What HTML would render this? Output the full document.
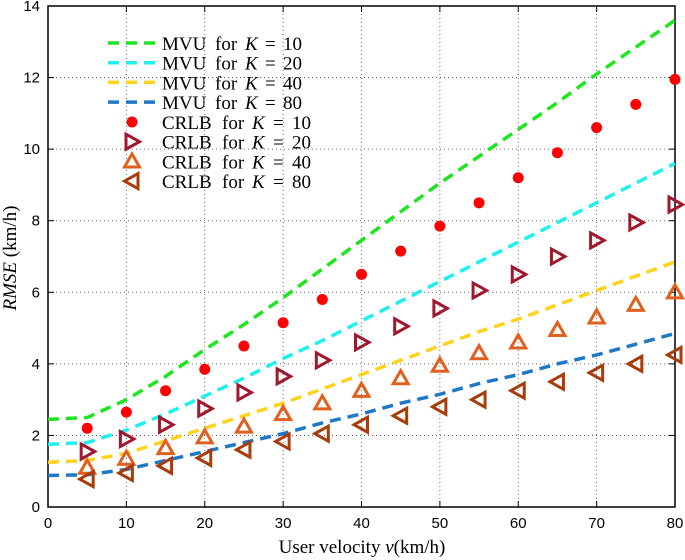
<!DOCTYPE html>
<html><head><meta charset="utf-8"><style>
body{margin:0;background:#fff}
svg{display:block}
.tk{font-family:"Liberation Sans",sans-serif;font-size:15px;fill:#000}
.lg{font-family:"Liberation Serif",serif;font-size:19px;fill:#000}
</style></head><body>
<svg id="c" width="685" height="560"></svg>
<script>
const xs=[0,5,10,15,20,25,30,35,40,45,50,55,60,65,70,75,80];
const mvu10=[2.45,2.5,3.0,3.65,4.4,5.1,5.85,6.65,7.45,8.25,9.05,9.8,10.55,11.3,12.1,12.85,13.6];
const mvu20=[1.75,1.8,2.15,2.6,3.1,3.6,4.15,4.65,5.2,5.75,6.3,6.85,7.4,7.95,8.5,9.05,9.6];
const mvu40=[1.25,1.3,1.5,1.85,2.2,2.55,2.9,3.3,3.7,4.1,4.5,4.9,5.25,5.65,6.05,6.45,6.85];
const mvu80=[0.88,0.9,1.05,1.3,1.55,1.8,2.05,2.35,2.6,2.9,3.15,3.45,3.7,4.0,4.25,4.55,4.85];
const cx=[5,10,15,20,25,30,35,40,45,50,55,60,65,70,75,80];
const crlb10=[2.2,2.65,3.25,3.85,4.5,5.15,5.8,6.5,7.15,7.85,8.5,9.2,9.9,10.6,11.25,11.95];
const crlb20=[1.55,1.9,2.3,2.75,3.2,3.65,4.1,4.6,5.05,5.55,6.05,6.5,7.0,7.45,7.95,8.45];
const crlb40=[1.1,1.35,1.65,1.95,2.25,2.6,2.9,3.25,3.6,3.95,4.3,4.6,4.95,5.3,5.65,6.0];
const crlb80=[0.78,0.95,1.15,1.37,1.6,1.83,2.05,2.3,2.55,2.8,3.0,3.25,3.5,3.75,4.0,4.25];
const xTicks=[0,10,20,30,40,50,60,70,80];
const yTicks=[0,2,4,6,8,10,12,14];
const X0=48,X1=675,Y0=507,Y1=6;
const sx=v=>X0+(X1-X0)*v/80, sy=v=>Y0-(Y0-Y1)*v/14;
const svg=document.getElementById('c');const NS='http://www.w3.org/2000/svg';
function mk(t,a,p){const e=document.createElementNS(NS,t);for(const k in a)e.setAttribute(k,a[k]);(p||svg).appendChild(e);return e;}
xTicks.forEach(t=>{if(t>0&&t<80){const l=mk('line',{x1:sx(t),x2:sx(t),y1:Y1,y2:Y0,stroke:'#444','stroke-width':0.8,'stroke-dasharray':'1,3'});

}
const tl=mk('text',{x:sx(t),y:Y0+21,'text-anchor':'middle',class:'tk'});tl.textContent=t;


mk('line',{x1:sx(t),x2:sx(t),y1:Y0,y2:Y0-6,stroke:'#000'});mk('line',{x1:sx(t),x2:sx(t),y1:Y1,y2:Y1+6,stroke:'#000'});});
yTicks.forEach(t=>{if(t>0&&t<14){const l=mk('line',{x1:X0,x2:X1,y1:sy(t),y2:sy(t),stroke:'#444','stroke-width':0.8,'stroke-dasharray':'1,3'});

}
const tl=mk('text',{x:X0-8,y:sy(t)+5,'text-anchor':'end',class:'tk'});tl.textContent=t;


mk('line',{x1:X0,x2:X0+6,y1:sy(t),y2:sy(t),stroke:'#000'});mk('line',{x1:X1,x2:X1-6,y1:sy(t),y2:sy(t),stroke:'#000'});});
const fr=mk('rect',{x:X0,y:Y1,width:X1-X0,height:Y0-Y1,fill:'none',stroke:'#000','stroke-width':1.5});


const lines=[[mvu10,'#1ee61e','mvu-k10-line'],[mvu20,'#1ef0f0','mvu-k20-line'],[mvu40,'#ffd21e','mvu-k40-line'],[mvu80,'#1e78c8','mvu-k80-line']];
lines.forEach(([d,c,n])=>{const p=mk('polyline',{points:xs.map((x,i)=>sx(x)+','+sy(d[i])).join(' '),fill:'none',stroke:c,'stroke-width':3.5,'stroke-dasharray':'11,7'});

});
function marker(type,x,y,c,g){const s=7.5;
if(type==='dot')return mk('circle',{cx:x,cy:y,r:5.5,fill:'#ff0000'},g);
let pts;
if(type==='right')pts=[[x-s*0.8,y-s],[x-s*0.8,y+s],[x+s,y]];
else if(type==='left')pts=[[x+s*0.8,y-s],[x+s*0.8,y+s],[x-s,y]];
else pts=[[x-s,y+s*0.75],[x+s,y+s*0.75],[x,y-s]];
return mk('polygon',{points:pts.map(p=>p.join(',')).join(' '),fill:'none',stroke:c,'stroke-width':3},g);}
const ser=[[crlb10,'dot','#ff0000','crlb-k10-series'],[crlb20,'right','#a0182e','crlb-k20-series'],[crlb40,'up','#e0601e','crlb-k40-series'],[crlb80,'left','#a83c0a','crlb-k80-series']];
ser.forEach(([d,t,c,n])=>{const g=mk('g',{});


cx.forEach((x,i)=>{const m=marker(t,sx(x),sy(d[i]),c,g);

});});
const lg=mk('g',{});


const labs=['10','20','40','80'];
function legText(y,word,xs2,num){
 const t=mk('text',{x:162,y:y+7,class:'lg'},lg);
 t.innerHTML=word+'<tspan x="'+xs2[0]+'">for</tspan><tspan x="'+xs2[1]+'" font-style="italic">K</tspan><tspan x="'+xs2[2]+'">=</tspan><tspan x="'+xs2[3]+'">'+num+'</tspan>';
 
 }
lines.forEach(([d,c],i)=>{const y=43+i*19.7;mk('line',{x1:108,x2:157,y1:y,y2:y,stroke:c,'stroke-width':3.5,'stroke-dasharray':'11,7'},lg);
legText(y,'MVU',[215,245,265,283],labs[i]);});
ser.forEach(([d,ty,c],i)=>{const y=122+i*19.7;marker(ty,132,y,c,lg);
legText(y,'CRLB',[222,252,273,292],labs[i]);});
const xl=mk('text',{x:362,y:553,'text-anchor':'middle',class:'lg'});xl.innerHTML='User velocity <tspan font-style="italic">v</tspan>(km/h)';


const yl=mk('text',{x:0,y:0,'text-anchor':'middle',class:'lg',transform:'translate(16,258) rotate(-90)'});yl.innerHTML='<tspan font-style="italic">RMSE</tspan> (km/h)';


</script>
</body></html>
